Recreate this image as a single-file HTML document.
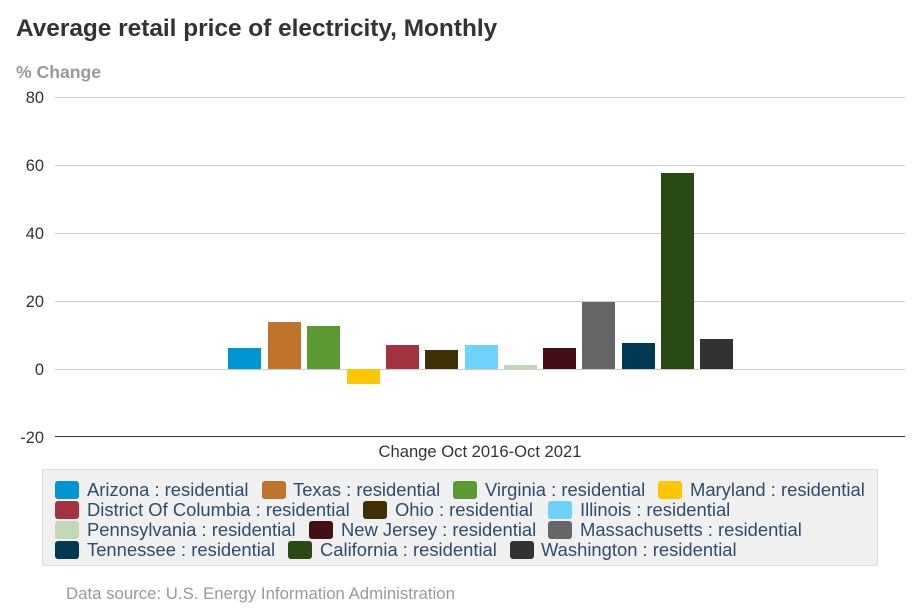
<!DOCTYPE html>
<html><head><meta charset="utf-8"><style>
body{margin:0;width:920px;height:613px;background:#fff;font-family:"Liberation Sans",sans-serif;position:relative;overflow:hidden}
.a{position:absolute;white-space:nowrap}
.sw{position:absolute;width:24px;height:18px;border-radius:3px}
.lt{position:absolute;font-size:18.4px;color:#2e4c6d;line-height:20px;white-space:nowrap}
</style></head><body>
<div class="a" style="left:16px;top:15px;font-size:24.4px;font-weight:bold;color:#333">Average retail price of electricity, Monthly</div>
<div class="a" style="left:16px;top:62px;font-size:17.6px;font-weight:bold;color:#999">% Change</div>
<svg class="a" style="left:0;top:0" width="920" height="470">
<g stroke="#ccc" stroke-width="1">
<line x1="55" x2="905" y1="97.5" y2="97.5"/><line x1="55" x2="905" y1="165.5" y2="165.5"/>
<line x1="55" x2="905" y1="233.5" y2="233.5"/><line x1="55" x2="905" y1="301.5" y2="301.5"/>
<line x1="55" x2="905" y1="369.5" y2="369.5"/></g>
<line x1="55" x2="905" y1="436.5" y2="436.5" stroke="#333"/>
<g font-size="16.4" fill="#333" text-anchor="end" font-family="Liberation Sans">
<text x="44" y="103">80</text><text x="44" y="171">60</text><text x="44" y="239">40</text>
<text x="44" y="307">20</text><text x="44" y="375">0</text><text x="44" y="443">-20</text></g>
<text x="480" y="457" font-size="16.6" fill="#333" text-anchor="middle" font-family="Liberation Sans">Change Oct 2016-Oct 2021</text>
<rect x="228" y="348" width="33" height="21" fill="#0096d6"/>
<rect x="268" y="322" width="33" height="47" fill="#c0732a"/>
<rect x="307" y="326" width="33" height="43" fill="#5a9a30"/>
<rect x="347" y="369" width="33" height="15" fill="#ffc500"/>
<rect x="386" y="345" width="33" height="24" fill="#a33340"/>
<rect x="425" y="350" width="33" height="19" fill="#3f3104"/>
<rect x="465" y="345" width="33" height="24" fill="#6fd1fd"/>
<rect x="504" y="365" width="33" height="4" fill="#c0d9b4"/>
<rect x="543" y="348" width="33" height="21" fill="#430f16"/>
<rect x="582" y="302" width="33" height="67" fill="#666"/>
<rect x="622" y="343" width="33" height="26" fill="#003953"/>
<rect x="661" y="173" width="33" height="196" fill="#2a4a14"/>
<rect x="700" y="339" width="33" height="30" fill="#333"/>
</svg>
<div class="a" style="left:42px;top:469px;width:834px;height:95px;background:#f0f0f0;border:1px solid #ddd"></div>
<div class="sw" style="left:55px;top:481px;background:#0096d6"></div><div class="lt" style="left:87px;top:480px">Arizona : residential</div>
<div class="sw" style="left:262px;top:481px;background:#c0732a"></div><div class="lt" style="left:293px;top:480px">Texas : residential</div>
<div class="sw" style="left:453px;top:481px;background:#5a9a30"></div><div class="lt" style="left:485px;top:480px">Virginia : residential</div>
<div class="sw" style="left:658px;top:481px;background:#ffc500"></div><div class="lt" style="left:690px;top:480px">Maryland : residential</div>
<div class="sw" style="left:55px;top:501px;background:#a33340"></div><div class="lt" style="left:87px;top:500px">District Of Columbia : residential</div>
<div class="sw" style="left:363px;top:501px;background:#3f3104"></div><div class="lt" style="left:395px;top:500px">Ohio : residential</div>
<div class="sw" style="left:548px;top:501px;background:#6fd1fd"></div><div class="lt" style="left:580px;top:500px">Illinois : residential</div>
<div class="sw" style="left:55px;top:521px;background:#c0d9b4"></div><div class="lt" style="left:87px;top:520px">Pennsylvania : residential</div>
<div class="sw" style="left:309px;top:521px;background:#430f16"></div><div class="lt" style="left:341px;top:520px">New Jersey : residential</div>
<div class="sw" style="left:548px;top:521px;background:#666"></div><div class="lt" style="left:580px;top:520px">Massachusetts : residential</div>
<div class="sw" style="left:55px;top:541px;background:#003953"></div><div class="lt" style="left:87px;top:540px">Tennessee : residential</div>
<div class="sw" style="left:288px;top:541px;background:#2a4a14"></div><div class="lt" style="left:320px;top:540px">California : residential</div>
<div class="sw" style="left:510px;top:541px;background:#333"></div><div class="lt" style="left:541px;top:540px">Washington : residential</div>
<div class="a" style="left:66px;top:584px;font-size:16.8px;color:#999">Data source: U.S. Energy Information Administration</div>
</body></html>
